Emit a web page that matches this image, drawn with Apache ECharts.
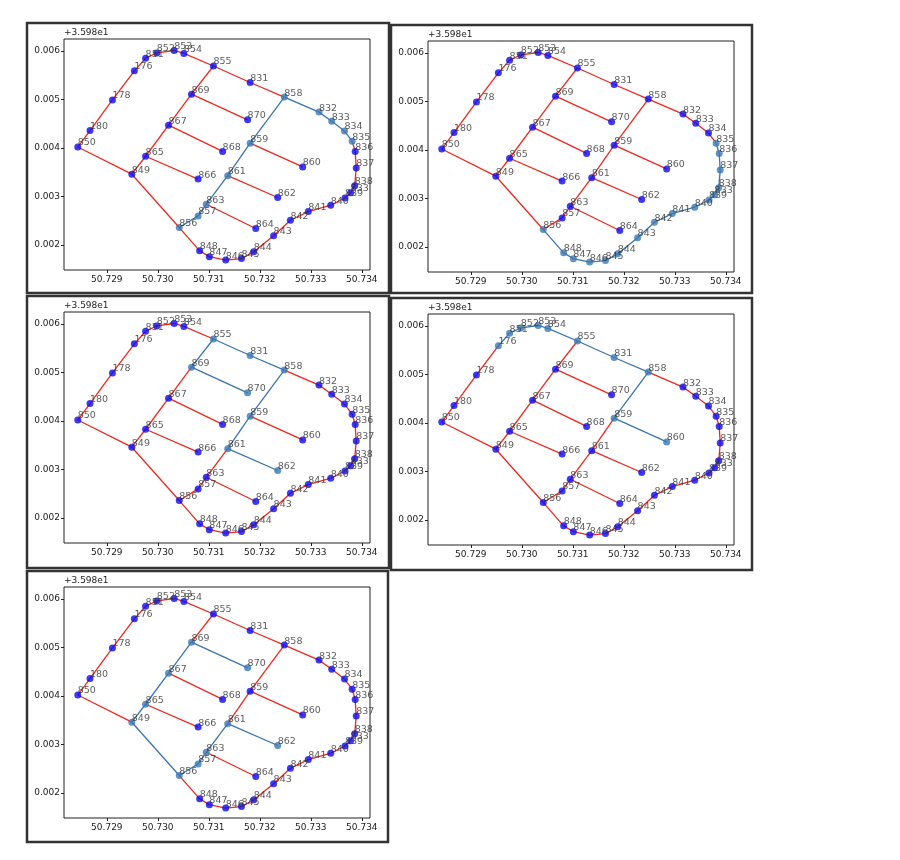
<!DOCTYPE html>
<html><head><meta charset="utf-8">
<script src="https://cdn.jsdelivr.net/npm/echarts@6/dist/echarts.min.js"></script>
<style>html,body{margin:0;padding:0;background:#fff}#c{width:900px;height:860px}</style>
</head><body><div id="c"></div>
<script>
// node ids, labels, coordinates (x = longitude, y = latitude offset from 35.98)
const nodeIds = ['850','180','178','176','851','852','853','854','855','831','858','832','833','834','835','836','837','838','x33','839','840','841','842','843','844','845','846','847','848','856','857','863','861','859','849','865','867','869','870','868','866','860','862','864'];
const nodeLabels = ['850','180','178','176','851','852','853','854','855','831','858','832','833','834','835','836','837','838','833','839','840','841','842','843','844','845','846','847','848','856','857','863','861','859','849','865','867','869','870','868','866','860','862','864'];
const nodeX = [50.72843,50.72867,50.72911,50.72954,50.72976,50.72998,50.73032,50.73051,50.73109,50.73181,50.73248,50.73316,50.73341,50.73366,50.73381,50.73387,50.73389,50.73386,50.73378,50.73367,50.73339,50.73295,50.73260,50.73227,50.73188,50.73164,50.73133,50.73101,50.73082,50.73042,50.73079,50.73095,50.73137,50.73181,50.72949,50.72976,50.73021,50.73066,50.73176,50.73127,50.73079,50.73284,50.73235,50.73192];
const nodeY = [0.00402,0.00436,0.00499,0.00559,0.00585,0.00596,0.00601,0.00595,0.00569,0.00535,0.00505,0.00474,0.00455,0.00435,0.00414,0.00393,0.00359,0.00322,0.00308,0.00297,0.00282,0.00269,0.00251,0.00219,0.00186,0.00172,0.00169,0.00176,0.00188,0.00236,0.00260,0.00284,0.00343,0.00410,0.00346,0.00383,0.00447,0.00511,0.00458,0.00393,0.00336,0.00361,0.00298,0.00234];
// edges
const edges = [
 ['850','180'],['180','178'],['178','176'],['176','851'],['851','852'],['852','853'],['853','854'],['854','855'],['855','831'],['831','858'],['858','832'],['832','833'],['833','834'],['834','835'],['835','836'],['836','837'],['837','838'],['838','x33'],['x33','839'],['839','840'],['840','841'],['841','842'],['842','843'],['843','844'],['844','845'],['845','846'],['846','847'],['847','848'],['848','856'],['856','849'],['849','850'],
 ['855','869'],['869','867'],['867','865'],['865','849'],
 ['858','859'],['859','861'],['861','863'],['863','857'],['857','856'],
 ['869','870'],['867','868'],['865','866'],['859','860'],['861','862'],['863','864']
];
// blue (highlighted) paths per panel
const bluePaths = [
 ['858','832','833','834','835','|','858','859','861','863','857','856'],
 ['835','836','837','838','x33','839','840','841','842','843','844','845','846','847','848','856'],
 ['855','831','858','859','861','862','|','855','869','870'],
 ['176','851','852','853','854','855','831','858','859','860'],
 ['870','869','867','865','849','856','857','863','861','862']
];
const xTicks = [50.729,50.730,50.731,50.732,50.733,50.734];
const yTicks = [0.002,0.003,0.004,0.005,0.006];

const panels = [[27,23,362,270],[391,25,361,268],[27,296,362,272],[391,298,361,272],[27,571,361,271]];
const RED='#f0281e', BLUE='#3b75af', DOT='#0a0af5', SBLUE='#3a78b4';

function blueSet(p){const s=new Set();for(let i=0;i+1<p.length;i++){if(p[i]==='|'||p[i+1]==='|')continue;s.add(p[i]+'-'+p[i+1]);s.add(p[i+1]+'-'+p[i]);}return s;}
const idx = id => nodeIds.indexOf(id);

const grid=[],xAxis=[],yAxis=[],series=[],graphic=[];
panels.forEach((pb,k)=>{
  const [L,T,W,H]=pb;
  graphic.push({type:'rect',shape:{x:L,y:T,width:W,height:H},style:{fill:'none',stroke:'#333',lineWidth:2.5}});
  graphic.push({type:'text',x:L+37,y:T+14,style:{text:'+3.598e1',font:'9px DejaVu Sans',fill:'#222',verticalAlign:'bottom'}});
  grid.push({left:L+37,top:T+16,width:306,height:231,show:true,borderColor:'#222',borderWidth:1,backgroundColor:'transparent'});
  xAxis.push({type:'value',gridIndex:k,min:50.72816,max:50.73416,splitLine:{show:false},axisLine:{show:false},
    axisTick:{show:true,customValues:xTicks,length:3,lineStyle:{color:'#222'}},
    axisLabel:{customValues:xTicks,formatter:v=>v.toFixed(3),fontSize:9,fontFamily:'DejaVu Sans',color:'#222',margin:5}});
  yAxis.push({type:'value',gridIndex:k,min:0.001485,max:0.006247,splitLine:{show:false},axisLine:{show:false},
    axisTick:{show:true,customValues:yTicks,length:3,lineStyle:{color:'#222'}},
    axisLabel:{customValues:yTicks,formatter:v=>v.toFixed(3),fontSize:9,fontFamily:'DejaVu Sans',color:'#222',margin:4}});
  const bs=blueSet(bluePaths[k]);
  const blueNodes=new Set();bluePaths[k].forEach(n=>{if(n!=='|')blueNodes.add(n);});
  const ld=edges.map(e=>{const a=idx(e[0]),b=idx(e[1]);const bl=bs.has(e[0]+'-'+e[1]);
    return {coords:[[nodeX[a],nodeY[a]],[nodeX[b],nodeY[b]]],lineStyle:{color:bl?BLUE:RED,width:1.3,opacity:1}};});
  series.push({type:'lines',coordinateSystem:'cartesian2d',xAxisIndex:k,yAxisIndex:k,data:ld,z:2,silent:true,animation:false});
  series.push({type:'scatter',xAxisIndex:k,yAxisIndex:k,symbolSize:7,z:3,animation:false,
    data:nodeIds.map((id,i)=>({value:[nodeX[i],nodeY[i]],itemStyle:{color:blueNodes.has(id)?SBLUE:DOT},
      label:{show:true,formatter:nodeLabels[i]}})),
    label:{position:[3.5,4.5],align:'left',verticalAlign:'bottom',fontSize:9.5,fontFamily:'DejaVu Sans',color:'#333'}});
});
const chart=echarts.init(document.getElementById('c'),null,{renderer:'canvas'});
chart.setOption({animation:false,grid,xAxis,yAxis,series,graphic});
</script></body></html>
